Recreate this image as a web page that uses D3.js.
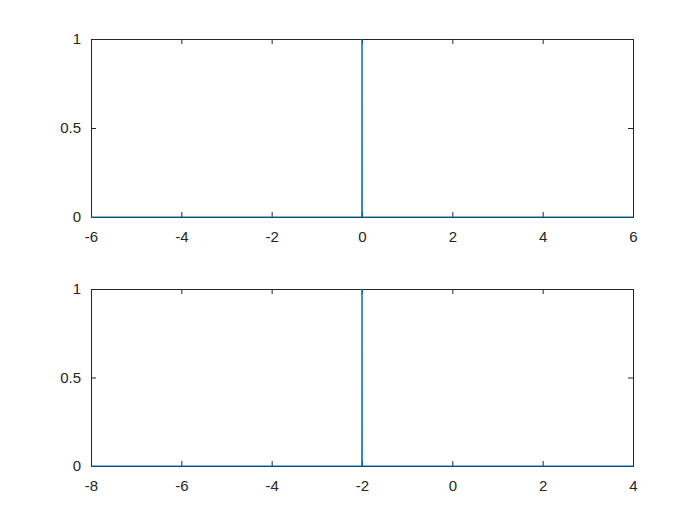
<!DOCTYPE html>
<head>
  <meta charset="utf-8" />
  <script src="https://d3js.org/d3.v7.min.js"></script>
  <style>
    body { margin: 0; background: #fff; }
    svg text { font-family: "Liberation Sans", Arial, sans-serif; font-size: 15px; fill: #262626; }
  </style>
</head>
<body>
<script>
  // top subplot: impulse at 0
  const topX = [-6, -0.006, 0, 0.006, 6];
  const topY = [0, 0, 1, 0, 0];
  const topXTicks = [-6, -4, -2, 0, 2, 4, 6];
  // bottom subplot: impulse shifted to -2
  const botX = [-8, -2.006, -2, -1.994, 4];
  const botY = [0, 0, 1, 0, 0];
  const botXTicks = [-8, -6, -4, -2, 0, 2, 4];
  const yTicks = [0, 0.5, 1];

  const width = 700, height = 525;
  const svg = d3.select("body").append("svg")
    .attr("width", width).attr("height", height);

  const left = 91, right = 633;
  const label = d => String(d);

  function subplot(xs, ys, xDomain, xTicks, top, bottom) {
    const x = d3.scaleLinear().domain(xDomain).range([left, right]);
    const y = d3.scaleLinear().domain([0, 1]).range([bottom, top]);
    const g = svg.append("g");

    const tick = 5;
    // box axes, ticks pointing inward, labels only bottom/left
    g.append("g").attr("transform", `translate(0,${bottom})`)
      .call(d3.axisBottom(x).tickValues(xTicks).tickSize(-tick).tickPadding(14).tickFormat(label));
    g.append("g").attr("transform", `translate(0,${top})`)
      .call(d3.axisTop(x).tickValues(xTicks).tickSize(-tick).tickFormat(""));
    g.append("g").attr("transform", `translate(${left},0)`)
      .call(d3.axisLeft(y).tickValues(yTicks).tickSize(-tick).tickPadding(10).tickFormat(label));
    g.append("g").attr("transform", `translate(${right},0)`)
      .call(d3.axisRight(y).tickValues(yTicks).tickSize(-tick).tickFormat(""));

    g.selectAll(".domain").attr("stroke", "#262626");
    g.selectAll(".tick line").attr("stroke", "#262626");

    const line = d3.line().x((d, i) => x(xs[i])).y((d, i) => y(ys[i]));
    g.append("path")
      .datum(ys)
      .attr("d", line)
      .attr("fill", "none")
      .attr("stroke", "#0072BD")
      .attr("stroke-width", 1);
  }

  subplot(topX, topY, [-6, 6], topXTicks, 39, 217);
  subplot(botX, botY, [-8, 4], botXTicks, 289, 466);
</script>
</body>
